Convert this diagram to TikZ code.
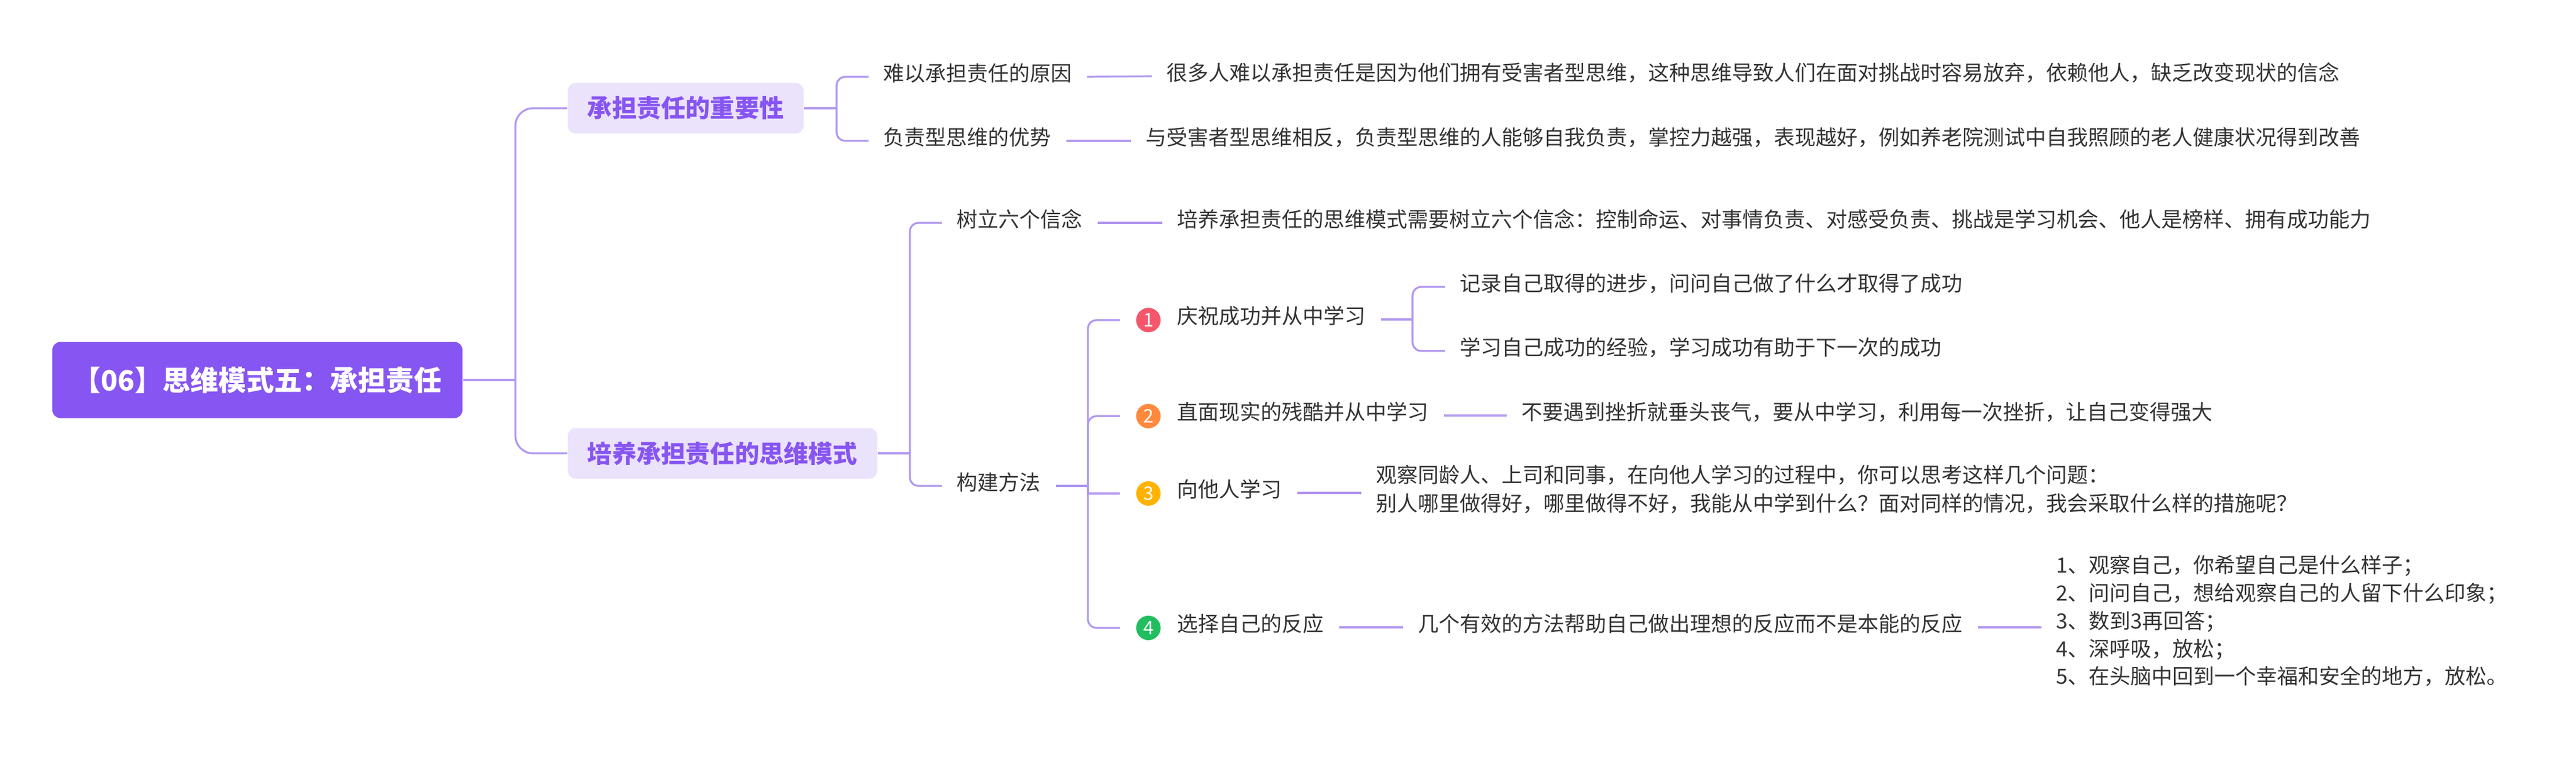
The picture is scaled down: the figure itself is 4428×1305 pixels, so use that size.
\documentclass[tikz,border=0pt]{standalone}
\usepackage{fontspec}
\setmainfont{Noto Sans CJK SC}
\definecolor{themepurple}{HTML}{8655F2}
\definecolor{softpurple}{HTML}{EBE2FC}
\definecolor{linkpurple}{HTML}{B197F0}
\definecolor{inkgray}{HTML}{333333}
\definecolor{markred}{HTML}{F5566B}
\definecolor{markorange}{HTML}{FF8A3D}
\definecolor{markyellow}{HTML}{FFB300}
\definecolor{markgreen}{HTML}{22BD5E}
\tikzset{
  topic/.style={fill=themepurple,text=white,rounded corners=3.5pt,minimum width=176.25pt,minimum height=32.75pt,inner sep=0pt,font=\fontsize{12}{14}\selectfont\bfseries},
  branch/.style={fill=softpurple,text=themepurple,rounded corners=3.5pt,minimum height=21.75pt,inner xsep=8.5pt,inner ysep=0pt,anchor=west,font=\fontsize{10.55}{12}\selectfont\bfseries},
  leaf/.style={text=inkgray,anchor=west,inner xsep=6.25pt,inner ysep=0pt,text height=8pt,text depth=4.4pt,font=\fontsize{9}{11}\selectfont},
  note/.style={text=inkgray,anchor=west,align=left,inner xsep=6.25pt,inner ysep=0pt,font=\fontsize{9}{11}\selectfont},
  numdot/.style={circle,text=white,minimum size=10.5pt,inner sep=0pt,outer sep=7pt,font=\fontsize{8}{9}\selectfont},
  link/.style={draw=linkpurple,line width=0.8pt},
  elbow/.style={link,rounded corners=3.75pt},
  wideelbow/.style={link,rounded corners=7.5pt}
}
\begin{document}
\begin{tikzpicture}[x=0.25pt,y=-0.25pt]
  \useasboundingbox (0,0) rectangle (4428,1305);
  \node[topic] (R) at (442.5,653) {【06】思维模式五：承担责任};
  \node[branch] (A-1) at (975,186) {承担责任的重要性};
  \node[branch] (A-2) at (975,779) {培养承担责任的思维模式};
  \node[leaf] (B-1) at (1493,132) {难以承担责任的原因};
  \node[leaf] (B-2) at (1493,242) {负责型思维的优势};
  \node[leaf] (B-3) at (1619,383) {树立六个信念};
  \node[leaf] (B-4) at (1619,835) {构建方法};
  \node[leaf] (C-1) at (1980,131) {很多人难以承担责任是因为他们拥有受害者型思维，这种思维导致人们在面对挑战时容易放弃，依赖他人，缺乏改变现状的信念};
  \node[leaf] (C-2) at (1944,242) {与受害者型思维相反，负责型思维的人能够自我负责，掌控力越强，表现越好，例如养老院测试中自我照顾的老人健康状况得到改善};
  \node[leaf] (C-3) at (1998,383) {培养承担责任的思维模式需要树立六个信念：控制命运、对事情负责、对感受负责、挑战是学习机会、他人是榜样、拥有成功能力};
  \node[numdot,fill=markred] (N-1) at (1974,550) {1};
  \node[numdot,fill=markorange] (N-2) at (1974,715) {2};
  \node[numdot,fill=markyellow] (N-3) at (1974,848) {3};
  \node[numdot,fill=markgreen] (N-4) at (1974,1079) {4};
  \node[leaf] (D-1) at (1998,549) {庆祝成功并从中学习};
  \node[leaf] (D-2) at (1998,714) {直面现实的残酷并从中学习};
  \node[leaf] (D-3) at (1998,847) {向他人学习};
  \node[leaf] (D-4) at (1998,1078) {选择自己的反应};
  \node[leaf] (E-1) at (2484,493) {记录自己取得的进步，问问自己做了什么才取得了成功};
  \node[leaf] (E-2) at (2484,603) {学习自己成功的经验，学习成功有助于下一次的成功};
  \node[leaf] (E-3) at (2590,714) {不要遇到挫折就垂头丧气，要从中学习，利用每一次挫折，让自己变得强大};
  \node[note] (E-4) at (2340,840.5) {观察同龄人、上司和同事，在向他人学习的过程中，你可以思考这样几个问题：\\[1.25pt]别人哪里做得好，哪里做得不好，我能从中学到什么？面对同样的情况，我会采取什么样的措施呢？};
  \node[leaf] (E-5) at (2412,1078) {几个有效的方法帮助自己做出理想的反应而不是本能的反应};
  \node[note] (F-1) at (3509,1067) {1、观察自己，你希望自己是什么样子；\\[0.95pt]2、问问自己，想给观察自己的人留下什么印象；\\[0.95pt]3、数到3再回答；\\[0.95pt]4、深呼吸，放松；\\[0.95pt]5、在头脑中回到一个幸福和安全的地方，放松。};
  \coordinate (J-1) at (886,653);
  \coordinate (J-2) at (1438,186);
  \coordinate (J-3) at (1564,779);
  \coordinate (J-4) at (1870,835);
  \coordinate (J-5) at (2428,549);
  \draw[link] (R.east) -- (J-1);
  \draw[wideelbow] (J-1) |- (A-1.west);
  \draw[wideelbow] (J-1) |- (A-2.west);
  \draw[link] (A-1.east) -- (J-2);
  \draw[elbow] (J-2) |- (B-1.west);
  \draw[elbow] (J-2) |- (B-2.west);
  \draw[link] (A-2.east) -- (J-3);
  \draw[elbow] (J-3) |- (B-3.west);
  \draw[elbow] (J-3) |- (B-4.west);
  \draw[link] (B-1.east) -- (C-1.west);
  \draw[link] (B-2.east) -- (C-2.west);
  \draw[link] (B-3.east) -- (C-3.west);
  \draw[link] (B-4.east) -- (J-4);
  \draw[elbow] (J-4) |- (N-1.west);
  \draw[elbow] (J-4) |- (N-2.west);
  \draw[link] (J-4) |- (N-3.west);
  \draw[elbow] (J-4) |- (N-4.west);
  \draw[link] (D-1.east) -- (J-5);
  \draw[elbow] (J-5) |- (E-1.west);
  \draw[elbow] (J-5) |- (E-2.west);
  \draw[link] (D-2.east) -- (E-3.west);
  \draw[link] (D-3.east) -- (D-3.east -| E-4.west);
  \draw[link] (D-4.east) -- (E-5.west);
  \draw[link] (E-5.east) -- (E-5.east -| F-1.west);
\end{tikzpicture}
\end{document}
